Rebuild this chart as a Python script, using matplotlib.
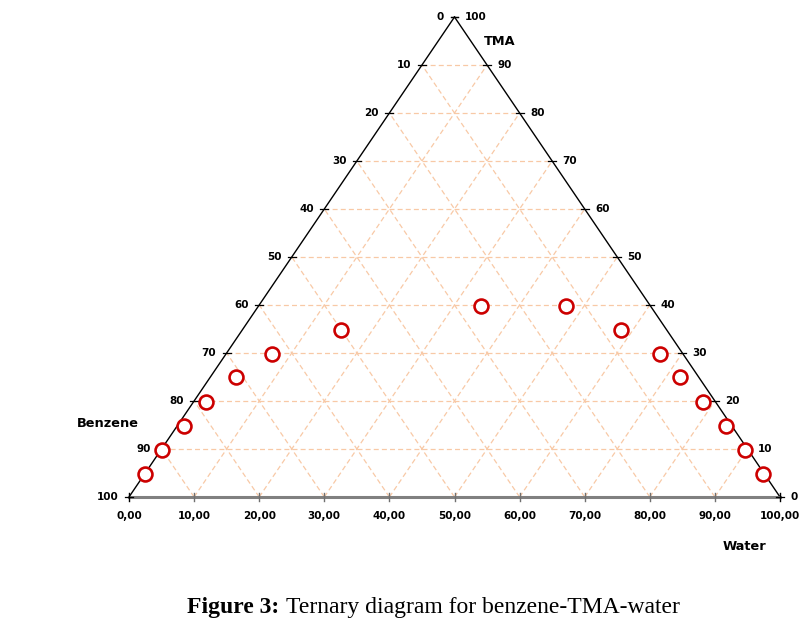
import matplotlib
matplotlib.use('Agg')
import matplotlib.pyplot as plt

# compositions in percent
tma = [4.8, 9.8, 14.8, 19.8, 25.0, 29.8, 34.8, 39.8, 39.8, 34.8, 29.8, 25.0, 19.8, 14.8, 9.8, 4.8]
water = [0.1, 0.1, 1.0, 2.0, 3.9, 7.1, 15.2, 34.1, 47.2, 58.2, 66.7, 72.1, 78.3, 84.3, 89.8, 95.0]
benzene = [100 - t - w for t, w in zip(tma, water)]

grid_steps = [10, 20, 30, 40, 50, 60, 70, 80, 90]
tick_steps = [0, 10, 20, 30, 40, 50, 60, 70, 80, 90, 100]
bottom_labels = ['%d,00' % v for v in tick_steps]

W, H = 811, 631
fig = plt.figure(figsize=(W / 100, H / 100), dpi=100)
ax = fig.add_axes([129 / W, (H - 497) / H, 651 / W, 480 / H])
ax.set_xlim(0, 100)
ax.set_ylim(0, 100)
ax.axis('off')


def xy(t, w):
    # cartesian position from TMA (height) and water fraction
    return w + t / 2, t


grid_kw = dict(color='#f8c9a6', lw=0.9, ls=(0, (4, 2.5)), zorder=1)
for g in grid_steps:
    # constant TMA
    ax.plot([g / 2, 100 - g / 2], [g, g], **grid_kw)
    # constant water
    ax.plot([g, g + (100 - g) / 2], [0, 100 - g], **grid_kw)
    # constant benzene
    ax.plot([100 - g, (100 - g) / 2], [0, 100 - g], **grid_kw)

# triangle edges
ax.plot([0, 50], [0, 100], color='black', lw=1, zorder=3, clip_on=False)
ax.plot([100, 50], [0, 100], color='black', lw=1, zorder=3, clip_on=False)
ax.plot([0, 100], [0, 0], color='#808080', lw=2.2, zorder=3, clip_on=False)

lab_kw = dict(fontsize=7.5, fontweight='bold', family='DejaVu Sans')
dx, dy = 0.6, 0.85
for v in tick_steps:
    # left edge: benzene, 0 at apex
    x0, y0 = (100 - v) / 2, 100 - v
    ax.plot([x0 - dx, x0 + dx], [y0, y0], color='black', lw=0.9, clip_on=False, zorder=4)
    ax.text(x0 - 1.6, y0, str(v), ha='right', va='center', **lab_kw)
    # right edge: TMA, 100 at apex
    x1, y1 = 100 - v / 2, v
    ax.plot([x1 - dx, x1 + dx], [y1, y1], color='black', lw=0.9, clip_on=False, zorder=4)
    ax.text(x1 + 1.6, y1, str(v), ha='left', va='center', **lab_kw)
    # bottom: water
    tc = 'black' if v in (0, 100) else '#707070'
    ax.plot([v, v], [-dy, dy], color=tc, lw=1.0, clip_on=False, zorder=4)

for v, s in zip(tick_steps, bottom_labels):
    ax.text(v, -3.0, s, ha='center', va='top', **lab_kw)

name_kw = dict(fontsize=9.3, fontweight='bold', family='DejaVu Sans',
               ha='center', va='center')
ax.text(-3.3, 15.4, 'Benzene', **name_kw)
ax.text(57.0, 94.8, 'TMA', **name_kw)
ax.text(94.6, -10.4, 'Water', **name_kw)

px, py = zip(*(xy(t, w) for t, w in zip(tma, water)))
ax.plot(px, py, 'o', ls='none', mfc='white', mec='#cc0000', ms=10, mew=1.9,
        zorder=5, clip_on=False)

cap_y = 1 - 613 / H
fig.text(187 / W, cap_y, 'Figure 3:', ha='left', va='baseline', fontsize=17,
         fontweight='bold', family='Liberation Serif')
fig.text(680 / W, cap_y, 'Ternary diagram for benzene-TMA-water', ha='right',
         va='baseline', fontsize=17, family='Liberation Serif')

fig.savefig('out.png', dpi=100)
